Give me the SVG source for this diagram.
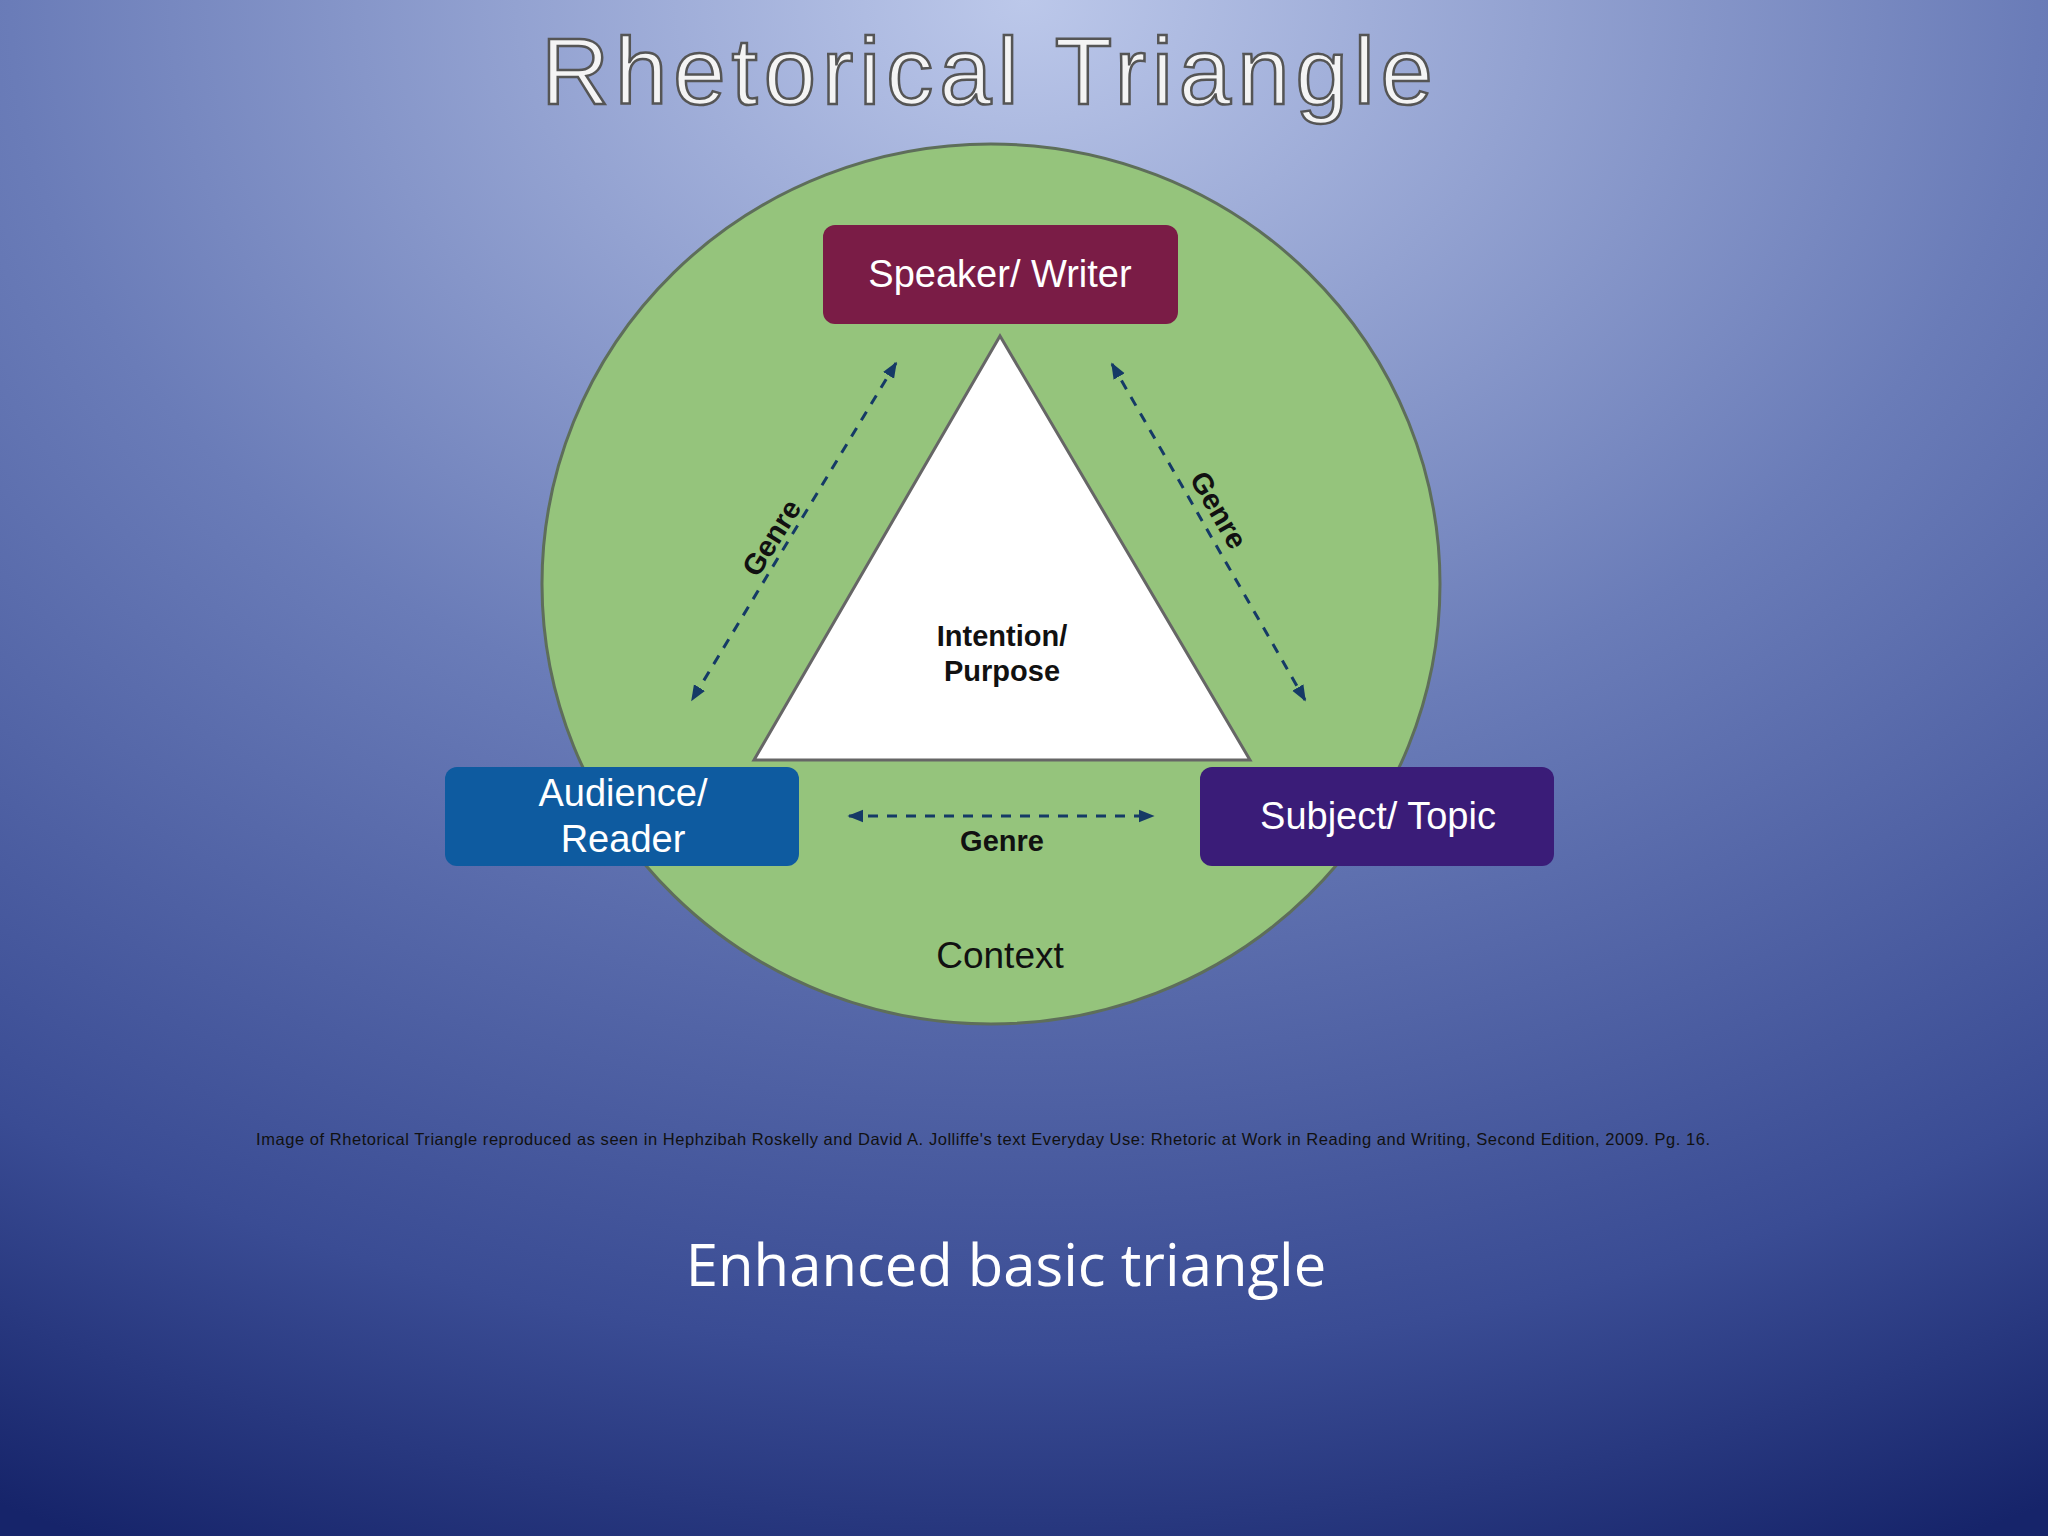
<svg xmlns="http://www.w3.org/2000/svg" width="2048" height="1536" viewBox="0 0 2048 1536">
<defs>
<radialGradient id="bg" cx="0.5" cy="0" r="1.1" fx="0.5" fy="0">
<stop offset="0" stop-color="#bcc8ea"/>
<stop offset="0.45" stop-color="#6a7cb8"/>
<stop offset="0.8" stop-color="#3a4c94"/>
<stop offset="1" stop-color="#16246a"/>
</radialGradient>
<marker id="ah" viewBox="0 0 10 10" refX="9" refY="5" markerWidth="16" markerHeight="16" orient="auto-start-reverse" markerUnits="userSpaceOnUse">
<path d="M0,1 L10,5 L0,9 z" fill="#153a66"/>
</marker>
<style>
.lbl{font-family:"Liberation Sans",Arial,sans-serif;fill:#fff;font-size:38px;text-anchor:middle}
.dk{font-family:"Liberation Sans",Arial,sans-serif;fill:#111;text-anchor:middle}
.arr{stroke:#153a66;stroke-width:3;stroke-dasharray:10 9;fill:none;marker-start:url(#ah);marker-end:url(#ah)}
</style>
</defs>
<rect width="2048" height="1536" fill="url(#bg)"/>
<text x="990" y="104" font-family="Liberation Sans,Arial,sans-serif" font-size="94" fill="#f4f4f4" stroke="#555" stroke-width="2.5" text-anchor="middle" letter-spacing="6">Rhetorical Triangle</text>
<g id="context">
<ellipse cx="991" cy="584" rx="449" ry="440" fill="#95c47c" stroke="#5e6e5a" stroke-width="3"/>
<text class="dk" x="1000" y="968" font-size="37">Context</text>
</g>
<g id="triangle">
<polygon points="1000,336 754,760 1250,760" fill="#fff" stroke="#666" stroke-width="3"/>
<text class="dk" x="1002" y="646" font-size="29" font-weight="bold" style="font-weight:600">Intention/</text>
<text class="dk" x="1002" y="681" font-size="29" style="font-weight:600">Purpose</text>
</g>
<g id="connectors">
<line class="arr" x1="896" y1="363" x2="692" y2="700"/>
<line class="arr" x1="1112" y1="364" x2="1305" y2="700"/>
<line class="arr" x1="849" y1="816" x2="1153" y2="816"/>
<text class="dk" font-size="29" font-weight="bold" transform="translate(780,543) rotate(-58)">Genre</text>
<text class="dk" font-size="29" font-weight="bold" transform="translate(1210,515) rotate(60)">Genre</text>
<text class="dk" x="1002" y="851" font-size="29" font-weight="bold">Genre</text>
</g>
<g id="speaker">
<rect x="823" y="225" width="355" height="99" rx="12" fill="#7a1c46"/>
<text class="lbl" x="1000" y="287">Speaker/ Writer</text>
</g>
<g id="audience">
<rect x="445" y="767" width="354" height="99" rx="12" fill="#0e5ba0"/>
<text class="lbl" x="623" y="806">Audience/</text>
<text class="lbl" x="623" y="852">Reader</text>
</g>
<g id="subject">
<rect x="1200" y="767" width="354" height="99" rx="12" fill="#3a1c78"/>
<text class="lbl" x="1378" y="829">Subject/ Topic</text>
</g>
<text x="983" y="1145" font-family="Liberation Sans,Arial,sans-serif" font-size="16.5" fill="#111" text-anchor="middle" textLength="1454">Image of Rhetorical Triangle reproduced as seen in Hephzibah Roskelly and David A. Jolliffe's text Everyday Use: Rhetoric at Work in Reading and Writing, Second Edition, 2009. Pg. 16.</text>
<text x="1006" y="1286" font-family="Open Sans,sans-serif" font-size="58" fill="#fff" text-anchor="middle">Enhanced basic triangle</text>
</svg>
